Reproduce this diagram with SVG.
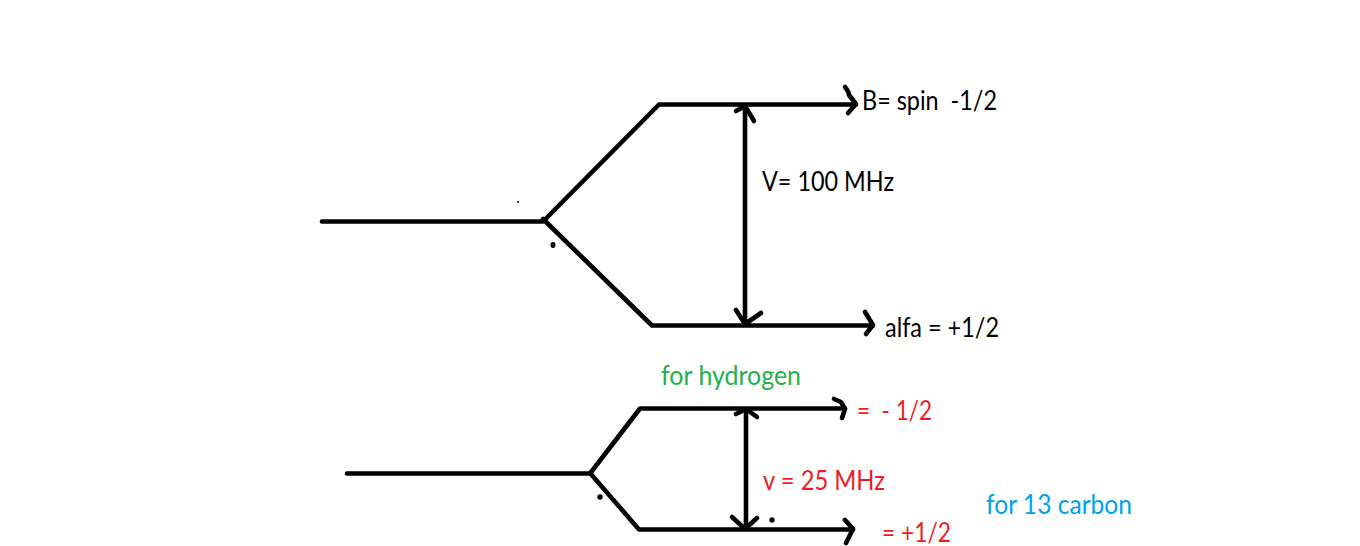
<svg xmlns="http://www.w3.org/2000/svg" width="1360" height="546" viewBox="0 0 1360 546">
<style>
.l{fill:none;stroke:#000;stroke-width:4.6;stroke-linecap:round;stroke-linejoin:round}
.t{font-family:Lato,"Liberation Sans",sans-serif;font-size:26px}
.k{fill:#000}.r{fill:#ed1c24}.g{fill:#22b14c}.b{fill:#00a2e8}
</style>
<rect width="1360" height="546" fill="#fff"/>
<g id="connectors" class="l">
<path d="M322 221.500H543L659 104.500H856"/>
<path d="M543 219L652 325.500H873"/>
<path d="M745 106V324"/>
<path d="M347 473.500H590L640 408.500H845"/>
<path d="M590 473L639 529.500H853"/>
<path d="M746 410V527"/>
<path d="M845 87Q849 92 849 95L856 104L848 113"/>
<path d="M865 312L873 325L866 334"/>
<path d="M736 111L745 106L754 121"/>
<path d="M736 310L745 324L761 313"/>
<path d="M834 399L841 402L845 409L842 418"/>
<path d="M736 414L746 409L757 417"/>
<path d="M732 517L745 529L757 518"/>
<path d="M845 520L853 529L846 543"/>
</g>
<g id="marks" fill="#000">
<ellipse cx="553" cy="245" rx="2.5" ry="3"/>
<circle cx="518" cy="202" r="1"/>
<circle cx="600" cy="497" r="2.7"/>
<circle cx="772" cy="520" r="2.7"/>
</g>
<g id="node-spin-minus"><text class="t k" x="862" y="110" textLength="135" lengthAdjust="spacingAndGlyphs" xml:space="preserve">B= spin  -1/2</text></g>
<g id="node-v100"><text class="t k" x="762" y="191" textLength="132" lengthAdjust="spacingAndGlyphs">V= 100 MHz</text></g>
<g id="node-alfa"><text class="t k" x="885" y="337" textLength="114" lengthAdjust="spacingAndGlyphs">alfa = +1/2</text></g>
<g id="node-hydrogen"><text class="t g" x="661" y="385" textLength="140" lengthAdjust="spacingAndGlyphs">for hydrogen</text></g>
<g id="node-c-minus"><text class="t r" x="857" y="420" textLength="75" lengthAdjust="spacingAndGlyphs" xml:space="preserve">=  - 1/2</text></g>
<g id="node-v25"><text class="t r" x="763" y="490" textLength="122" lengthAdjust="spacingAndGlyphs">v = 25 MHz</text></g>
<g id="node-carbon"><text class="t b" x="986" y="514" textLength="146" lengthAdjust="spacingAndGlyphs">for 13 carbon</text></g>
<g id="node-c-plus"><text class="t r" x="882" y="542" textLength="69" lengthAdjust="spacingAndGlyphs">= +1/2</text></g>
</svg>
